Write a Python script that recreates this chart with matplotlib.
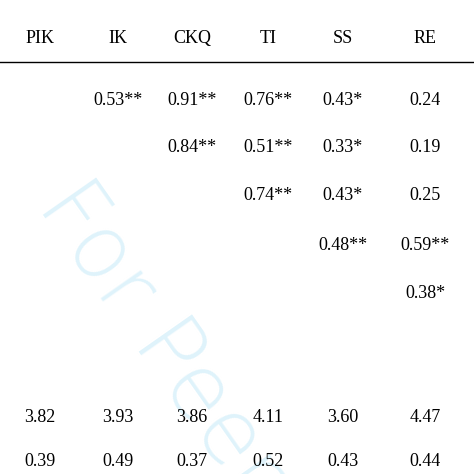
import matplotlib
matplotlib.use("Agg")
import matplotlib.pyplot as plt

columns = ["PIK", "IK", "CKQ", "TI", "SS", "RE"]
corr_rows = [
    ["", "0.53**", "0.91**", "0.76**", "0.43*", "0.24"],
    ["", "", "0.84**", "0.51**", "0.33*", "0.19"],
    ["", "", "", "0.74**", "0.43*", "0.25"],
    ["", "", "", "", "0.48**", "0.59**"],
    ["", "", "", "", "", "0.38*"],
]
means = ["3.82", "3.93", "3.86", "4.11", "3.60", "4.47"]
sds = ["0.39", "0.49", "0.37", "0.52", "0.43", "0.44"]

col_x = [40, 118, 192, 268, 343, 425]
corr_y = [100, 148, 196, 245, 293]

fig = plt.figure(figsize=(4.74, 4.74), dpi=100)
ax = fig.add_axes([0, 0, 1, 1])
ax.set_xlim(0, 474); ax.set_ylim(474, 0); ax.axis("off")

font = dict(family="Liberation Serif", fontsize=13, ha="center", va="center")

# watermark
ax.text(160, 340, "For Peer", fontsize=64, color="#dff3fb", rotation=-55,
        ha="center", va="center", family="DejaVu Sans", fontweight="light",
        zorder=0, clip_on=True)

ax.axhline(62, color="black", lw=1)
for x, c in zip(col_x, columns):
    ax.text(x, 38, c, **font)
for y, row in zip(corr_y, corr_rows):
    for x, v in zip(col_x, row):
        if v:
            ax.text(x, y, v, **font)
for x, v in zip(col_x, means):
    ax.text(x, 418, v, **font)
for x, v in zip(col_x, sds):
    ax.text(x, 462, v, **font)

fig.savefig("out.png", dpi=100)
